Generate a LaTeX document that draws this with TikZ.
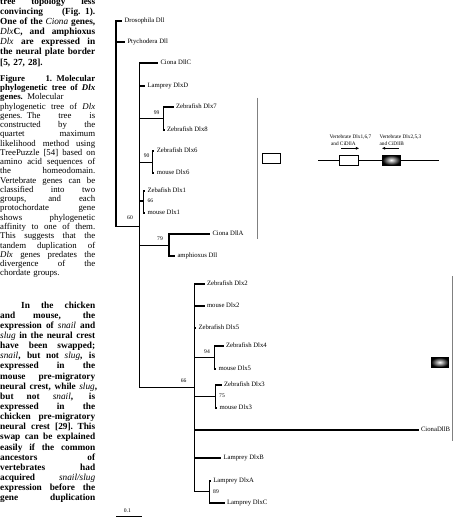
\documentclass[tikz,border=0pt]{standalone}
\usepackage{fontspec}
\setmainfont{Liberation Serif}
\usetikzlibrary{arrows.meta, calc, positioning}

% one justified line of the text column
\newcommand{\jl}[2][95pt]{\makebox[#1][s]{\spaceskip=\fontdimen2\font plus 1fil minus 0.1em\relax #2}\\}
\newcommand{\gi}[1]{{\mdseries\itshape #1}}

\begin{document}
\begin{tikzpicture}[x=1pt, y=-1pt,
    branch/.style={line width=1.1pt, line cap=rect},
    taxon/.style={anchor=west, inner xsep=2.8pt, inner ysep=0pt, text height=4.6pt, text depth=1.4pt, font=\fontsize{6.7}{7}\selectfont},
    boot/.style={inner sep=0pt, font=\fontsize{5.6}{6}\selectfont},
    bodytext/.style={anchor=base west, inner sep=0pt, text width=100pt, align=left, font=\fontsize{9.3}{10.15}\selectfont\bfseries},
    captext/.style={anchor=base west, inner sep=0pt, text width=100pt, align=left, font=\fontsize{8.8}{9.27}\selectfont},
    grpline/.style={gray, line width=0.8pt},
    plainbox/.style={draw, line width=0.6pt, fill=white, inner sep=0pt, minimum width=18.7pt, minimum height=10pt},
    darkbox/.style={draw=black, line width=0.6pt, inner color=white, outer color=black, inner sep=0pt, minimum width=17.7pt, minimum height=10pt},
    genetext/.style={anchor=west, inner sep=0pt, align=left, font=\fontsize{5.3}{6.6}\selectfont},
    genearrow/.style={line width=0.6pt, -{Latex[length=3.5pt, width=3pt]}}
]
    \useasboundingbox (0,0) rectangle (474,524);
    \clip (0,0) rectangle (474,524);

    % text column
    \node[bodytext] (para1) at (0,4.2) {%
        \jl{tree topology less}
        \jl{convincing (Fig. 1).}
        \jl{One of the \gi{Ciona} genes,}
        \jl{\gi{Dlx}C, and amphioxus}
        \jl{\gi{Dlx} are expressed in}
        \jl{the neural plate border}
        {[5, 27, 28].}};
    \node[captext] (caption) at (0,81.2) {%
        \jl{\textbf{Figure 1. Molecular}}
        \jl{\textbf{phylogenetic tree of \textit{Dlx}}}
        \jl{\textbf{genes.} Molecular}
        \jl{phylogenetic tree of \textit{Dlx}}
        \jl{genes. The tree is}
        \jl{constructed by the}
        \jl{quartet maximum}
        \jl{likelihood method using}
        \jl{TreePuzzle [54] based on}
        \jl{amino acid sequences of}
        \jl{the homeodomain.}
        \jl{Vertebrate genes can be}
        \jl{classified into two}
        \jl{groups, and each}
        \jl{protochordate gene}
        \jl{shows phylogenetic}
        \jl{affinity to one of them.}
        \jl{This suggests that the}
        \jl{tandem duplication of}
        \jl{\textit{Dlx} genes predates the}
        \jl{divergence of the}
        chordate groups.};
    \node[bodytext] (para2) at (0,308) {%
        \hspace*{21pt}\jl[74pt]{In the chicken}
        \jl{and mouse, the}
        \jl{expression of \gi{snail} and}
        \jl{\gi{slug} in the neural crest}
        \jl{have been swapped;}
        \jl{\gi{snail}, but not \gi{slug}, is}
        \jl{expressed in the}
        \jl{mouse pre-migratory}
        \jl[97pt]{neural crest, while \gi{slug},}
        \jl{but not \gi{snail}, is}
        \jl{expressed in the}
        \jl{chicken pre-migratory}
        \jl{neural crest [29]. This}
        \jl{swap can be explained}
        \jl{easily if the common}
        \jl{ancestors of}
        \jl{vertebrates had}
        \jl{acquired \gi{snail/slug}}
        \jl{expression before the}
        \makebox[95pt][s]{\spaceskip=\fontdimen2\font plus 1fil\relax gene duplication}};

    % inner nodes of the tree
    \coordinate (root) at (116,226.7);
    \coordinate (n60) at (139.3,226.7);
    \coordinate (n99) at (163.3,118.3);
    \coordinate (n90) at (152.7,162.3);
    \coordinate (n66a) at (143.3,201);
    \coordinate (n79) at (169,245.7);
    \coordinate (n66b) at (194.7,387.7);
    \coordinate (n94) at (214.7,357.3);
    \coordinate (n75) at (215.7,396.3);
    \coordinate (n89) at (209.3,491.3);

    % taxa
    \node[taxon] (dros) at (121.5,21) {Drosophila Dll};
    \node[taxon] (ptych) at (124.5,42) {Ptychodera Dll};
    \node[taxon] (cionaC) at (157.5,63) {Ciona DllC};
    \node[taxon] (lampD) at (144.5,86) {Lamprey DlxD};
    \node[taxon] (zf7) at (173,107) {Zebrafish Dlx7};
    \node[taxon] (zf8) at (164,130) {Zebrafish Dlx8};
    \node[taxon] (zf6) at (153.8,151) {Zebrafish Dlx6};
    \node[taxon] (ms6) at (153.8,173) {mouse Dlx6};
    \node[taxon] (zf1) at (144.5,191) {Zebafish Dlx1};
    \node[taxon] (ms1) at (144.5,213) {mouse Dlx1};
    \node[taxon] (cionaA) at (209.5,234) {Ciona DllA};
    \node[taxon] (amph) at (174.5,256) {amphioxus Dll};
    \node[taxon] (zf2) at (204,284) {Zebrafish Dlx2};
    \node[taxon] (ms2) at (204,306) {mouse Dlx2};
    \node[taxon] (zf5) at (195.5,328) {Zebrafish Dlx5};
    \node[taxon] (zf4) at (223,346) {Zebrafish Dlx4};
    \node[taxon] (ms5) at (215.5,369) {mouse Dlx5};
    \node[taxon] (zf3) at (221,385) {Zebrafish Dlx3};
    \node[taxon] (ms3) at (216.5,408) {mouse Dlx3};
    \node[taxon] (cionaB) at (418,430) {CionaDllB};
    \node[taxon] (lampB) at (220.5,458) {Lamprey DlxB};
    \node[taxon] (lampA) at (210.3,481) {Lamprey DlxA};
    \node[taxon] (lampC) at (224,503) {Lamprey DlxC};

    % branches
    \draw[branch] (root) |- (dros.west);
    \draw[branch] (root) |- (ptych.west);
    \draw[branch] (root) -- (n60);
    \foreach \c in {cionaC.west, lampD.west, n99, n90, n66a, n79, n66b}
        \draw[branch] (n60) |- (\c);
    \foreach \p/\a/\b in {n99/zf7/zf8, n90/zf6/ms6, n66a/zf1/ms1, n79/cionaA/amph,
                         n94/zf4/ms5, n75/zf3/ms3, n89/lampA/lampC} {
        \draw[branch] (\p) |- (\a.west);
        \draw[branch] (\p) |- (\b.west);
    }
    \foreach \c in {zf2.west, ms2.west, zf5.west, n94, n75, cionaB.west, lampB.west, n89}
        \draw[branch] (n66b) |- (\c);

    % bootstrap values
    \node[boot] (b60) at (130,217.3) {60};
    \node[boot] (b99) at (156.7,112.7) {99};
    \node[boot] (b90) at (146.7,156) {90};
    \node[boot] (b66a) at (150.3,200.3) {66};
    \node[boot] (b79) at (160,239) {79};
    \node[boot] (b66b) at (183.7,381) {66};
    \node[boot] (b94) at (207,351.7) {94};
    \node[boot] (b75) at (222,396) {75};
    \node[boot] (b89) at (216,491.7) {89};

    % scale bar
    \coordinate (s0) at (116,516);
    \coordinate (s1) at (142,516);
    \draw[line width=0.6pt] (s0) -- (s1);
    \node[boot] (scl) at (127.3,511) {0.1};

    % groups
    \coordinate (g1t) at (257.7,97.7);
    \coordinate (g1b) at (257.7,239.3);
    \draw[grpline] (g1t) -- (g1b);
    \node[plainbox] (key1) at (271.3,158.3) {};
    \coordinate (g2t) at (452,276);
    \coordinate (g2b) at (452,440.7);
    \draw[grpline] (g2t) -- (g2b);
    \node[darkbox, minimum width=17.3pt, minimum height=9.7pt] (key2) at (439.7,362.2) {};

    % gene arrangement
    \coordinate (gl) at (318.3,160);
    \coordinate (gr) at (439.3,160);
    \node[plainbox] (gA) at (348.7,160) {};
    \node[darkbox] (gB) at (391.2,160) {};
    \draw[line width=0.7pt] (gl) -- (gA) (gA) -- (gB) (gB) -- (gr);
    \node[genetext] (lblA) at (329.3,140) {Vertebrate Dlx1,6,7\\\hspace*{1.5pt}and CiDllA};
    \node[genetext] (lblB) at (379.3,140) {Vertebrate Dlx2,5,3\\and CiDllB};
    \coordinate (a1) at (341,148.3);
    \coordinate (a2) at (359.3,148.3);
    \draw[genearrow] (a1) -- (a2);
    \coordinate (b1) at (399,148.3);
    \coordinate (b2) at (381.7,148.3);
    \draw[genearrow] (b1) -- (b2);
\end{tikzpicture}
\end{document}
